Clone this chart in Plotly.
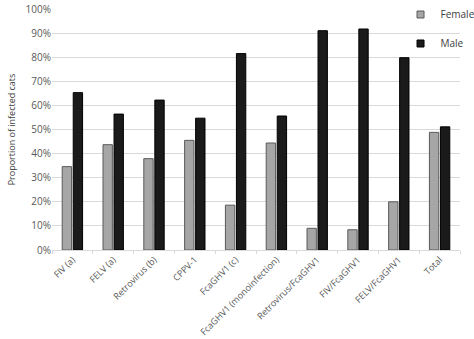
import plotly.graph_objects as go

categories = ["FIV (a)", "FELV (a)", "Retrovirus (b)", "CPPV-1", "FcaGHV1 (c)",
              "FcaGHV1 (monoinfection)", "Retrovirus/FcaGHV1", "FIV/FcaGHV1",
              "FELV/FcaGHV1", "Total"]
female = [34.6, 43.7, 37.9, 45.5, 18.6, 44.4, 9.0, 8.4, 20.0, 48.8]
male = [65.3, 56.4, 62.2, 54.7, 81.5, 55.6, 91.0, 91.7, 79.8, 51.1]
y_ticks = list(range(0, 101, 10))
y_labels = [f"{v}%" for v in y_ticks]

FAM = "Open Sans, Liberation Sans, sans-serif"
female_fill, female_edge = "#a6a6a6", "#5a5a5a"
male_fill, male_edge = "#1a1a1a", "#000000"

fig = go.Figure()
fig.add_trace(go.Bar(x=categories, y=female, name="Female", showlegend=False,
                     marker=dict(color=female_fill, line=dict(color=female_edge, width=1))))
fig.add_trace(go.Bar(x=categories, y=male, name="Male", showlegend=False,
                     marker=dict(color=male_fill, line=dict(color=male_edge, width=1))))

# small square legend keys
for name, fill, edge, grp in [("Female", female_fill, female_edge, "f"),
                              ("Male", male_fill, male_edge, "m")]:
    fig.add_trace(go.Scatter(x=[None], y=[None], mode="markers", name=name,
                             legendgroup=grp,
                             marker=dict(symbol="square", size=7, color=fill,
                                         line=dict(color=edge, width=1))))

tick_font = dict(family=FAM, size=10, color="#595959")
fig.update_layout(
    width=474, height=339,
    margin=dict(l=52, r=14, t=9, b=89, autoexpand=False),
    paper_bgcolor="white", plot_bgcolor="white",
    barmode="group", bargap=0.46, bargroupgap=0.15,
    font=dict(family=FAM, size=9, color="#595959"),
    showlegend=True,
    legend=dict(xref="container", yref="container", x=0.845, y=1.0,
                xanchor="left", yanchor="top",
                font=dict(family=FAM, size=10, color="#404040"),
                tracegroupgap=10, bgcolor="rgba(0,0,0,0)", itemwidth=30),
    xaxis=dict(tickangle=-45, showline=True, linecolor="#d9d9d9", linewidth=1,
               ticks="outside", tickson="boundaries", ticklen=3, tickcolor="#d9d9d9",
               showgrid=False, tickfont=dict(family=FAM, size=9, color="#595959")),
    yaxis=dict(range=[0, 100], tickvals=y_ticks, ticktext=y_labels,
               showgrid=True, gridcolor="#d9d9d9", gridwidth=1, zeroline=False,
               tickfont=tick_font, ticks="",
               title=dict(text="Proportion of infected cats",
                          font=dict(family=FAM, size=9, color="#404040"),
                          standoff=8)),
)

fig.write_html("out.html")
